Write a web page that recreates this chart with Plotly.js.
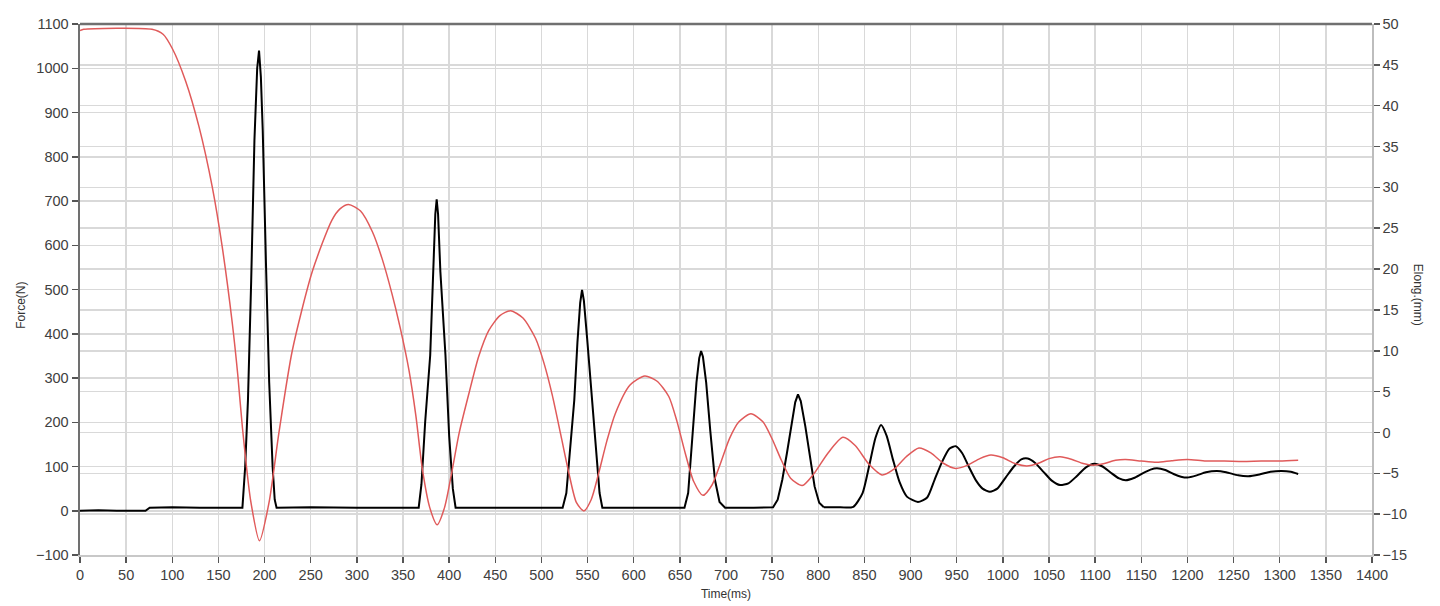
<!DOCTYPE html>
<html>
<head>
<meta charset="utf-8">
<script src="https://cdn.plot.ly/plotly-3.0.1.min.js"></script>
<style>html,body{margin:0;padding:0;background:#fff;}#chart{width:1440px;height:606px;}</style>
</head>
<body>
<div id="chart"></div>
<script>
// Force (N) vs time (ms) — black, left axis
const forceTime = [0, 20, 40, 60, 71, 75.5, 100, 130, 160, 176, 179, 182, 185.5, 189, 192, 194, 196, 198, 201.5, 205, 208.7, 211, 213, 250, 300, 340, 367, 370, 374, 379.5, 383, 385, 386.5, 388, 390.5, 396, 400, 404, 407, 450, 490, 523, 527, 531, 535.6, 539, 542, 544, 546, 549.5, 554.8, 559, 563, 566, 600, 630, 655, 659, 664, 668, 671, 673, 675, 678.5, 683, 688, 693, 699, 730, 751, 756, 761, 766, 771, 775, 778, 781, 786, 791, 796, 801, 806, 820, 838, 848, 855, 862, 868, 874, 881, 888, 896, 908, 918, 926, 934, 942, 949, 956, 963, 971, 978, 986, 994, 1003, 1012, 1020, 1027, 1035, 1044, 1053, 1062, 1071, 1080, 1090, 1099, 1108, 1117, 1126, 1133, 1142, 1151, 1160, 1167, 1176, 1185, 1193, 1200, 1210, 1220, 1232, 1242, 1255, 1266, 1278, 1290, 1302, 1312, 1320];
const forceValues = [0, 1, 0, 1, 0, 7, 8, 7, 7, 7, 100, 250, 520, 836, 1000, 1040, 980, 860, 560, 290, 100, 25, 7, 8, 7, 7, 7, 60, 200, 352, 560, 670, 704, 670, 540, 352, 170, 50, 7, 7, 7, 7, 40, 140, 250, 380, 470, 499, 475, 390, 250, 130, 40, 7, 7, 7, 7, 40, 180, 290, 345, 361, 348, 290, 180, 70, 20, 7, 7, 8, 25, 70, 130, 195, 245, 263, 248, 190, 120, 55, 18, 8, 8, 9, 40, 100, 165, 194, 170, 115, 65, 32, 20, 30, 70, 110, 140, 146, 130, 100, 68, 50, 43, 50, 75, 100, 116, 118, 108, 88, 68, 58, 62, 78, 98, 106, 100, 86, 73, 69, 74, 84, 93, 96, 92, 83, 77, 75, 80, 87, 90, 87, 80, 78, 82, 88, 90, 88, 83];

// Elongation (mm) vs time (ms) — red, right axis
const elongTime = [0, 4, 78, 90, 100, 114.5, 129, 143.4, 154, 165, 171, 176, 185, 194.5, 204.8, 215.6, 230, 251.7, 273, 282, 291, 304, 316.7, 327, 338, 347, 356.5, 364, 371, 379, 387, 395, 403, 411, 421.5, 432, 443, 455, 466.6, 480, 493.7, 503, 511.7, 521, 529.8, 538, 546, 554, 562, 571, 580, 596, 612, 625, 638, 647, 656, 665, 675, 685, 694, 704, 714, 727, 740, 750, 760, 770, 782.6, 795, 810, 826.7, 840, 855, 869, 882, 895, 909, 922, 936, 949, 962, 975, 987, 1000, 1013, 1026, 1040, 1050, 1062, 1075, 1087, 1098, 1110, 1122, 1133, 1150, 1167, 1183, 1200, 1220, 1240, 1260, 1280, 1300, 1320];
const elongValues = [49.2, 49.35, 49.35, 48.75, 47.0, 43.0, 37.4, 30.0, 22.8, 13.4, 7.0, 0.6, -8.4, -13.25, -8.6, 0, 10, 19.7, 26.0, 27.4, 27.9, 27.1, 24.6, 21.4, 17.0, 12.8, 7.6, 2.0, -4.5, -9.2, -11.3, -9.2, -4.8, 0.0, 4.8, 9.3, 12.5, 14.3, 14.9, 14.0, 11.5, 8.4, 4.6, -0.3, -5.0, -8.6, -9.6, -8.2, -5.0, -1.0, 2.3, 5.8, 6.9, 6.3, 4.4, 1.3, -2.6, -6.0, -7.7, -6.4, -3.8, -0.7, 1.3, 2.3, 1.3, -0.8, -3.4, -5.6, -6.5, -5.1, -2.6, -0.6, -1.6, -3.9, -5.2, -4.5, -3.0, -1.9, -2.5, -3.8, -4.4, -4.0, -3.2, -2.76, -3.1, -3.8, -4.1, -3.7, -3.2, -2.97, -3.3, -3.8, -4.0, -3.8, -3.4, -3.3, -3.5, -3.65, -3.45, -3.3, -3.5, -3.5, -3.55, -3.5, -3.5, -3.4];

const xTitle = 'Time(ms)';
const yTitle = 'Force(N)';
const y2Title = 'Elong.(mm)';

const FONT = '"Liberation Sans", Arial, sans-serif';

// split force series: sharp impact pulses (linear) and smooth decaying tail (spline)
const splitAt = forceTime.indexOf(806);

const traces = [
  {
    x: elongTime, y: elongValues, yaxis: 'y2', type: 'scatter', mode: 'lines',
    line: {color: '#e05a5a', width: 1.5, shape: 'spline', smoothing: 0.7},
    name: 'Elong', hoverinfo: 'x+y'
  },
  {
    x: forceTime.slice(0, splitAt + 1), y: forceValues.slice(0, splitAt + 1), type: 'scatter', mode: 'lines',
    line: {color: '#000000', width: 2},
    name: 'Force', hoverinfo: 'x+y'
  },
  {
    x: forceTime.slice(splitAt), y: forceValues.slice(splitAt), type: 'scatter', mode: 'lines',
    line: {color: '#000000', width: 2, shape: 'spline', smoothing: 0.6},
    name: 'Force', hoverinfo: 'x+y'
  }
];

const layout = {
  width: 1440, height: 606,
  margin: {l: 80, r: 68, t: 24, b: 51},
  paper_bgcolor: '#ffffff', plot_bgcolor: '#ffffff',
  showlegend: false,
  font: {family: FONT, size: 14.5, color: '#404040'},
  xaxis: {
    range: [0, 1400], dtick: 50, tick0: 0,
    showgrid: true, gridcolor: '#d9d9d9', gridwidth: 1.5,
    zeroline: false,
    showline: true, linecolor: '#c8c8c8', linewidth: 1.5,
    ticks: 'outside', ticklen: 6, tickwidth: 1.5, tickcolor: '#555',
    tickfont: {family: FONT, size: 14.5, color: '#404040'},
    title: {text: xTitle, font: {family: FONT, size: 12, color: '#333'}, standoff: 7},
    automargin: false
  },
  yaxis: {
    range: [-100, 1100], dtick: 100, tick0: 0,
    showgrid: true, gridcolor: '#d9d9d9', gridwidth: 1.5,
    zeroline: false,
    showline: true, linecolor: '#707070', linewidth: 2.5,
    ticks: 'outside', ticklen: 6, tickwidth: 1.5, tickcolor: '#555',
    tickfont: {family: FONT, size: 14.5, color: '#404040'},
    automargin: false
  },
  yaxis2: {
    overlaying: 'y', side: 'right',
    range: [-15, 50], dtick: 5, tick0: 0,
    showgrid: true, gridcolor: '#d9d9d9', gridwidth: 1.5,
    zeroline: false,
    showline: true, linecolor: '#bdbdbd', linewidth: 1.5,
    ticks: 'outside', ticklen: 6, tickwidth: 1.5, tickcolor: '#555',
    tickfont: {family: FONT, size: 14.5, color: '#404040'},
    automargin: false
  },
  shapes: [
    {type: 'line', xref: 'paper', yref: 'paper', x0: 0, x1: 1, y0: 1, y1: 1,
     line: {color: '#707070', width: 2.5}}
  ],
  annotations: [
    {text: yTitle, xref: 'paper', yref: 'paper', x: -0.0457, y: 0.471,
     textangle: -90, showarrow: false, xanchor: 'center', yanchor: 'middle',
     font: {family: FONT, size: 12, color: '#333'}},
    {text: y2Title, xref: 'paper', yref: 'paper', x: 1.0356, y: 0.49,
     textangle: 90, showarrow: false, xanchor: 'center', yanchor: 'middle',
     font: {family: FONT, size: 12, color: '#333'}}
  ]
};

Plotly.newPlot('chart', traces, layout, {staticPlot: true, displayModeBar: false});
</script>
</body>
</html>
